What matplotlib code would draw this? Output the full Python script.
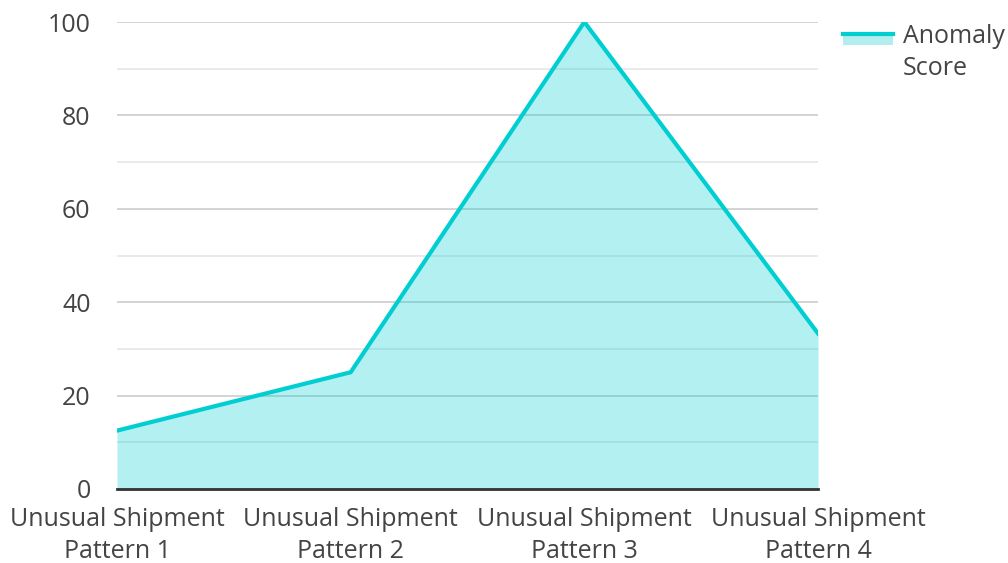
import matplotlib
matplotlib.use("Agg")
import matplotlib.pyplot as plt
from matplotlib.patches import Rectangle
from matplotlib.lines import Line2D

plt.rcParams['font.family'] = ['Open Sans', 'DejaVu Sans']

categories = ["Unusual Shipment\nPattern 1", "Unusual Shipment\nPattern 2",
              "Unusual Shipment\nPattern 3", "Unusual Shipment\nPattern 4"]
scores = [12.5, 25, 100, 33.3]
series_name = "Anomaly\nScore"
yticks = [0, 20, 40, 60, 80, 100]

line_color = "#00CED1"
fill_color = "#B2EEEE"
text_color = "#444444"

fig = plt.figure(figsize=(10.08, 5.63), dpi=100)
ax = fig.add_axes([117/1008, 1 - 489/563, (818-117)/1008, (489-22)/563])

x = list(range(len(categories)))
ax.fill_between(x, scores, 0, color=line_color, alpha=0.3, linewidth=0, zorder=2)
ax.plot(x, scores, color=line_color, linewidth=3, zorder=3, solid_joinstyle='miter')

ax.set_xlim(0, len(categories) - 1)
ax.set_ylim(0, 100)
ax.set_yticks(yticks)
ax.set_yticks([10, 30, 50, 70, 90], minor=True)
ax.grid(axis='y', which='major', color='#cccccc', linewidth=1.2, zorder=1)
ax.grid(axis='y', which='minor', color='#e6e6e6', linewidth=1.2, zorder=1)
ax.set_axisbelow(True)
ax.set_xticks(x)
ax.set_xticklabels(categories)
for s in ['top', 'right', 'left']:
    ax.spines[s].set_visible(False)
ax.spines['bottom'].set_color('#333333')
ax.spines['bottom'].set_linewidth(2)
ax.spines['bottom'].set_zorder(4)
ax.tick_params(axis='both', which='both', length=0, labelsize=18, colors=text_color)
ax.tick_params(axis='y', pad=19)
ax.tick_params(axis='x', pad=13)
for lab in ax.get_xticklabels():
    lab.set_linespacing(1.35)

# legend
fig.add_artist(Rectangle((843/1008, 1 - 45/563), 50/1008, 12/563,
                         transform=fig.transFigure, color=fill_color, lw=0))
fig.add_artist(Line2D([843/1008, 893/1008], [1 - 34/563, 1 - 34/563],
                      transform=fig.transFigure, color=line_color, lw=3))
fig.text(903/1008, 1 - 24/563, series_name, fontsize=18, color=text_color,
         va='top', ha='left', linespacing=1.35,
         transform=fig.transFigure)

fig.savefig("out.png", dpi=100)
